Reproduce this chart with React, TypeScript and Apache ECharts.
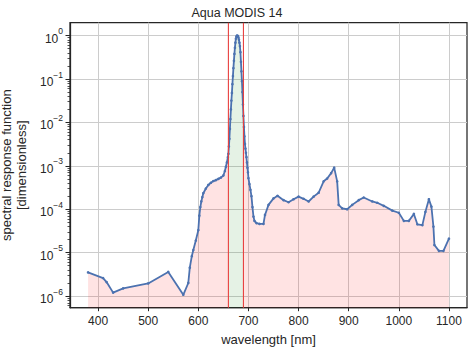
import React, { useEffect, useRef } from "react";
import * as echarts from "echarts";

// Wavelength samples [nm]
const wavelengths = [
  380, 410, 417, 430, 450, 500, 540, 570, 580, 583, 587, 590, 595, 600, 602, 604, 606, 608, 610,
  615, 620, 625, 630, 635, 640, 645, 650, 653, 655, 657, 659, 660, 661, 662, 663, 664, 665, 666,
  667, 668, 669, 670, 671, 672, 673, 674, 675, 676, 677, 678, 679, 680, 681, 682, 683, 684, 685,
  686, 687, 688, 689, 690, 691, 692, 693, 694, 695, 696, 697, 698, 699, 700, 702, 704, 706, 708,
  710, 712, 716, 722, 730, 733, 740, 750, 758, 770, 780, 790, 800, 810, 820, 830, 840, 850, 857,
  865, 871, 877, 880, 887, 897, 907, 920, 930, 947, 957, 970, 987, 1000, 1010, 1020, 1030, 1037,
  1047, 1053, 1060, 1065, 1069, 1071, 1080, 1089, 1100,
];

// Spectral response [dimensionless] at each wavelength
const response = [
  3.5e-6, 2.6e-6, 2.1e-6, 1.2e-6, 1.5e-6, 1.95e-6, 3.6e-6, 1.07e-6, 2.0e-6, 4.5e-6, 8.3e-6, 1.15e-5,
  1.9e-5, 3.3e-5, 7.1e-5, 1.12e-4, 1.51e-4, 1.9e-4, 2.34e-4, 3.0e-4, 3.63e-4, 4.07e-4, 4.47e-4,
  4.68e-4, 5.0e-4, 5.37e-4, 6.0e-4, 7.6e-4, 9.5e-4, 1.2e-3, 1.58e-3, 1.9e-3, 2.8e-3, 4.2e-3,
  7.1e-3, 1.2e-2, 2.0e-2, 3.2e-2, 4.8e-2, 7.6e-2, 0.117, 0.178, 0.263, 0.38, 0.525, 0.69, 0.85,
  0.955, 1.0, 0.995, 0.977, 0.91, 0.81, 0.69, 0.575, 0.417, 0.25, 0.151, 0.089, 0.05, 0.026,
  0.0141, 7.9e-3, 4.8e-3, 3.2e-3, 2.5e-3, 2.0e-3, 1.58e-3, 1.2e-3, 9.1e-4, 7.1e-4, 5.2e-4, 3.8e-4,
  2.8e-4, 2.0e-4, 1.12e-4, 6.8e-5, 5.4e-5, 4.8e-5, 4.6e-5, 4.6e-5, 7.4e-5, 1.26e-4, 1.78e-4,
  2.04e-4, 1.62e-4, 1.45e-4, 1.7e-4, 1.95e-4, 1.74e-4, 1.51e-4, 1.95e-4, 2.4e-4, 4.4e-4, 5.1e-4,
  6.8e-4, 9.1e-4, 4.4e-4, 1.26e-4, 1.05e-4, 1.0e-4, 1.26e-4, 1.62e-4, 1.86e-4, 1.51e-4, 1.41e-4,
  1.2e-4, 9.3e-5, 8.3e-5, 5.4e-5, 5.4e-5, 7.8e-5, 4.5e-5, 4.3e-5, 8.7e-5, 1.7e-4, 1.15e-4, 4.0e-5,
  1.5e-5, 1.1e-5, 1.1e-5, 2.1e-5,
];

// Band edges (red vertical lines) [nm]
const bandEdges = [660, 690];

const xTicks = [400, 500, 600, 700, 800, 900, 1000, 1100];
const yMajorTicks = [1e-6, 1e-5, 1e-4, 1e-3, 1e-2, 1e-1, 1];
const yMinorTicks = [
  6e-7, 7e-7, 8e-7, 9e-7,
  2e-6, 3e-6, 4e-6, 5e-6, 6e-6, 7e-6, 8e-6, 9e-6,
  2e-5, 3e-5, 4e-5, 5e-5, 6e-5, 7e-5, 8e-5, 9e-5,
  2e-4, 3e-4, 4e-4, 5e-4, 6e-4, 7e-4, 8e-4, 9e-4,
  2e-3, 3e-3, 4e-3, 5e-3, 6e-3, 7e-3, 8e-3, 9e-3,
  2e-2, 3e-2, 4e-2, 5e-2, 6e-2, 7e-2, 8e-2, 9e-2,
  0.2, 0.3, 0.4, 0.5, 0.6, 0.7, 0.8, 0.9,
];

const X_MIN = 344;
const X_MAX = 1136;
const Y_MIN = 5.39e-7;
const Y_MAX = 1.988;

const FONT = "'Liberation Sans', Arial, sans-serif";
const INK = "#262626";
const RED = "#e8403f";

export default function App() {
  const ref = useRef<HTMLDivElement>(null);

  useEffect(() => {
    if (!ref.current) return;
    const chart = echarts.init(ref.current, undefined, { renderer: "svg" });

    const all = wavelengths.map((w, i) => [w, response[i]]);
    const leftPart = all.filter((p) => p[0] <= bandEdges[0]);
    const bandPart = all.filter((p) => p[0] >= bandEdges[0] && p[0] <= bandEdges[1]);
    const rightPart = all.filter((p) => p[0] >= bandEdges[1]);

    const areaSeries = (data: number[][], color: string) => ({
      type: "line",
      data,
      showSymbol: false,
      lineStyle: { width: 0, opacity: 0 },
      areaStyle: { color, origin: "start", opacity: 1 },
      silent: true,
      z: 1,
    });

    chart.setOption({
      animation: false,
      backgroundColor: "#ffffff",
      title: {
        text: "Aqua MODIS 14",
        left: "center",
        top: 6,
        padding: 0,
        textStyle: { fontFamily: FONT, fontSize: 12.5, fontWeight: "normal", color: INK },
      },
      grid: {
        left: 70,
        right: 7,
        top: 22.7,
        bottom: 45.3,
        containLabel: false,
        outerBoundsMode: "none",
        show: true,
        borderColor: INK,
        borderWidth: 1.25,
        backgroundColor: "#ffffff",
      },
      xAxis: {
        type: "value",
        min: X_MIN,
        max: X_MAX,
        name: "wavelength [nm]",
        nameLocation: "middle",
        nameGap: 25,
        nameTextStyle: { fontFamily: FONT, fontSize: 13, color: INK },
        axisLine: { show: true, lineStyle: { color: INK, width: 1.25 } },
        axisTick: { show: true, customValues: xTicks, length: 3.5, lineStyle: { color: INK, width: 1 } },
        axisLabel: {
          customValues: xTicks,
          margin: 7,
          formatter: (v: number) => String(Math.round(v)),
          fontFamily: FONT,
          fontSize: 12,
          color: INK,
        },
        splitLine: { show: true, lineStyle: { color: "#cccccc", width: 1 } },
      },
      yAxis: [
        {
          type: "log",
          logBase: 10,
          min: Y_MIN,
          max: Y_MAX,
          name: "spectral response function\n[dimensionless]",
          nameLocation: "middle",
          nameRotate: 90,
          nameGap: 38,
          nameTextStyle: { fontFamily: FONT, fontSize: 13, color: INK, lineHeight: 15 },
          axisLine: { show: true, lineStyle: { color: INK, width: 1.25 } },
          axisTick: { show: true, customValues: yMajorTicks, length: 4.5, lineStyle: { color: INK, width: 1 } },
          axisLabel: {
            customValues: yMajorTicks,
            margin: 7,
            formatter: (v: number) => {
              const e = Math.round(Math.log10(v));
              return `{b|10}{s|${e < 0 ? "\u2212" : ""}${Math.abs(e)}}`;
            },
            rich: {
              b: { fontFamily: FONT, fontSize: 12, color: INK, lineHeight: 18, verticalAlign: "bottom" },
              s: { fontFamily: FONT, fontSize: 8.5, color: INK, lineHeight: 10, verticalAlign: "top" },
            },
          },
          splitLine: { show: true, lineStyle: { color: "#cccccc", width: 1 } },
        },
        {
          type: "log",
          logBase: 10,
          min: Y_MIN,
          max: Y_MAX,
          position: "left",
          offset: 0,
          axisLine: { show: false },
          axisTick: { show: true, customValues: yMinorTicks, length: 2.5, lineStyle: { color: INK, width: 0.8 } },
          axisLabel: { show: false },
          splitLine: { show: false },
        },
      ],
      series: [
        areaSeries(leftPart, "rgba(255, 0, 0, 0.11)"),
        areaSeries(rightPart, "rgba(255, 0, 0, 0.11)"),
        areaSeries(bandPart, "rgba(0, 128, 0, 0.1)"),
        {
          type: "line",
          data: all,
          symbol: "circle",
          symbolSize: 2.6,
          showSymbol: true,
          showAllSymbol: true,
          itemStyle: { color: "#4c72b0" },
          lineStyle: { color: "#4c72b0", width: 1.8 },
          silent: true,
          z: 3,
        },
        {
          type: "custom",
          data: bandEdges.map((b) => [b, 1]),
          encode: { x: 0, y: 1 },
          silent: true,
          z: 5,
          renderItem: (params: any, api: any) => {
            const top = api.coord([api.value(0), Y_MAX]);
            const bottom = api.coord([api.value(0), Y_MIN]);
            return {
              type: "line",
              shape: { x1: top[0], y1: top[1], x2: bottom[0], y2: bottom[1] },
              style: { stroke: RED, lineWidth: 1.1 },
            };
          },
        },
      ],
    });

    return () => chart.dispose();
  }, []);

  return (
    <div
      ref={ref}
      style={{ position: "absolute", left: 0, top: 0, width: 474, height: 353 }}
    />
  );
}
